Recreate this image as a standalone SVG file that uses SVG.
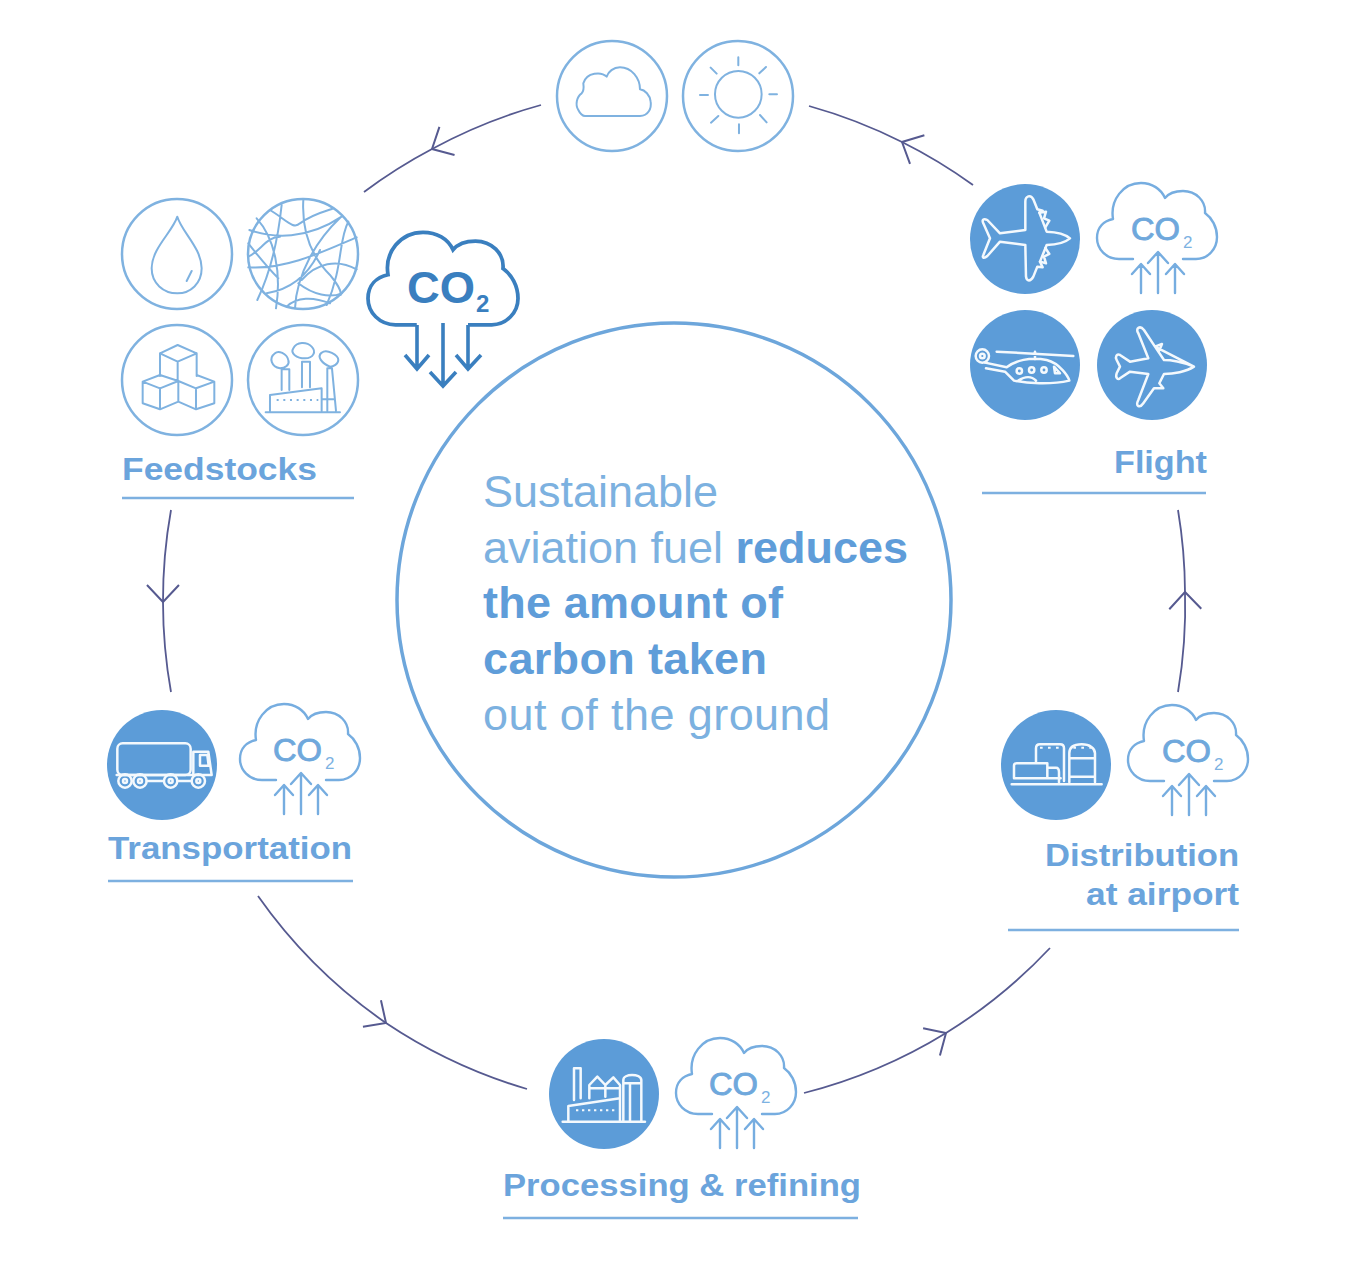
<svg xmlns="http://www.w3.org/2000/svg" xmlns:xlink="http://www.w3.org/1999/xlink" width="1356" height="1282" viewBox="0 0 1356 1282">
<style>
text{font-family:"Liberation Sans",Arial,sans-serif}
.ring{fill:#fff;stroke:#7fb2e0;stroke-width:2.5}
.solid{fill:#5c9cd8}
.ln{fill:none;stroke:#7fb2e0;stroke-width:6;stroke-linecap:round;stroke-linejoin:round}
.wh{fill:none;stroke:#f4f9fd;stroke-width:7.5;stroke-linecap:round;stroke-linejoin:round}
.cl{fill:none;stroke:#76ade0;stroke-width:2.4;stroke-linecap:round;stroke-linejoin:round}
.co{font-size:31px;fill:#6fa8dc;stroke:#6fa8dc;stroke-width:.9}
.sub{font-size:17px;fill:#7db2e2}
.lab{font-size:32px;font-weight:bold;fill:#6ba4dc}
.rule{stroke:#7db0e0;stroke-width:2.5;fill:none}
.big{font-size:45px;fill:#7cb1e0}
.bt{font-weight:bold;fill:#5f9dd9}
.conn{fill:none;stroke:#565a90;stroke-width:1.8;marker-mid:url(#v)}
</style>
<defs>
<marker id="v" markerUnits="userSpaceOnUse" markerWidth="44" markerHeight="44" refX="22" refY="22" orient="auto" viewBox="0 0 44 44">
<path d="M5 6L22 22L5 38" fill="none" stroke="#565a90" stroke-width="2"/>
</marker>
<g id="cloud"><path class="cl" d="M36 76H22C9 76 0 66 0 55C0 44 7 38 16 36C13 17 26 0 44 0C55 0 64 6 68 15C72 10 79 8 86 8C99 8 109 18 108 30C115 35 120 44 120 54C120 66 111 76 99 76H86"/>
<path class="cl" d="M44 110V82M35 91L44 81L53 91M61 110V70M51 80L61 69L71 80M78 110V82M69 91L78 81L87 91"/></g>
</defs>
<rect width="1356" height="1282" fill="#fff"/>

<g id="connectors">
<path class="conn" d="M541 105A512 512 0 0 0 432 149A512 512 0 0 0 364 192"/>
<path class="conn" d="M973 185A512 512 0 0 0 902 142A512 512 0 0 0 809 106"/>
<path class="conn" d="M171 510A512 512 0 0 0 163 602A512 512 0 0 0 171 692"/>
<path class="conn" d="M258 896A512 512 0 0 0 386 1023A512 512 0 0 0 527 1089"/>
<path class="conn" d="M804 1093A512 512 0 0 0 946 1033A512 512 0 0 0 1050 948"/>
<path class="conn" d="M1178 692A512 512 0 0 0 1185 592A512 512 0 0 0 1178 510"/>
</g>

<g id="center">
<circle cx="674" cy="600" r="277" fill="#fff" stroke="#6da6db" stroke-width="3.5"/>
<text class="big" x="483" y="507" textLength="235">Sustainable</text>
<text class="big" x="483" y="563" textLength="425">aviation fuel <tspan class="bt">reduces</tspan></text>
<text class="big bt" x="483" y="618" textLength="300">the amount of</text>
<text class="big bt" x="483" y="674" textLength="284">carbon taken</text>
<text class="big" x="483" y="730" textLength="347">out of the ground</text>
</g>

<g id="node-sky">
<circle class="ring" cx="612" cy="96" r="55"/>
<circle class="ring" cx="738" cy="96" r="55"/>
<g transform="translate(540 30) scale(.3333)">
<path class="ln" d="M135 258H300C325 258 335 235 332 215C330 195 315 180 300 178C300 145 275 112 240 112C220 112 205 125 200 140C185 125 140 125 130 160C132 175 130 185 125 190C110 200 105 225 115 240C120 250 128 258 135 258Z"/>
<circle class="ln" cx="595" cy="193" r="70"/>
<path class="ln" d="M595 82V106M597 283V310M480 195H504M688 193H711M512 113L530 131M678 111L658 130M513 278L535 258M680 277L660 255"/>
</g>
</g>

<g id="node-feedstocks">
<circle class="ring" cx="177" cy="254" r="55"/>
<circle class="ring" cx="303" cy="254" r="55"/>
<circle class="ring" cx="177" cy="380" r="55"/>
<circle class="ring" cx="303" cy="380" r="55"/>
<g transform="translate(100 180) scale(.3333)">
<path class="ln" d="M232 110C218 155 155 205 155 265C155 310 190 340 232 340C272 340 305 310 305 265C305 205 245 155 232 110ZM260 303L275 273"/>
<path class="ln" d="M448 150C520 175 620 180 725 110M445 262C560 270 680 210 770 172M545 75C535 170 515 270 472 360M610 60C605 150 630 225 690 285C710 310 725 330 722 345M722 112C650 180 590 280 585 385M445 190C480 235 500 260 535 295M470 115C525 175 545 280 528 385M595 310C640 345 690 355 725 340M770 268C710 235 650 250 605 300M745 125C715 180 730 260 680 375M500 340C560 330 620 300 660 210M510 90C560 120 580 150 600 130C640 100 690 90 700 85M445 230C480 215 500 170 540 170M560 380C590 350 640 350 690 370"/>
<path class="ln" d="M233 495L290 520L233 545L180 520ZM180 520V588M290 520V588M233 545V600M180 585L235 603L180 625L128 605ZM128 605V670L180 688L235 665V603M180 625V688M290 585L343 605L288 625L235 603M343 605V670L288 688L235 665M288 625V688"/>
<path class="ln" d="M497 697H720M510 692V645L665 625V692M545 630V568H568V630M606 622V545H630V622M682 692V565H696L708 692M665 658H700M540 565C515 560 505 535 525 520C535 510 560 520 565 540C570 555 555 565 540 565ZM615 535C590 535 570 520 580 505C590 485 620 485 635 500C650 515 640 535 615 535ZM690 560C665 550 650 530 665 518C680 505 715 525 715 540C715 552 700 560 690 560Z"/>
<path d="M530 660H655" fill="none" stroke="#7fb2e0" stroke-width="6" stroke-dasharray="6 14"/>
</g>
<text class="lab" x="122" y="479.500" textLength="195" lengthAdjust="spacingAndGlyphs">Feedstocks</text>
<line class="rule" x1="122" y1="498" x2="354" y2="498"/>
</g>

<g id="node-capture">
<g transform="translate(368 231) scale(1.25)"><path d="M39 75H22C9 75 0 65 0 54C0 43 7 37 16 35C13 17 26 1 44 1C55 1 64 6 68 15C72 10 79 8 86 8C99 8 109 18 108 30C115 35 120 44 120 54C120 65 111 75 99 75H80" fill="none" stroke="#3a7fbf" stroke-width="3"/></g>
<path d="M417 325V369M405 355L417 369L429 355" fill="none" stroke="#3a7fbf" stroke-width="3.6"/>
<path d="M443 323V386M430 372L443 386L456 372" fill="none" stroke="#3a7fbf" stroke-width="3.6"/>
<path d="M468 325V369M456 355L468 369L481 355" fill="none" stroke="#3a7fbf" stroke-width="3.6"/>
<text x="407" y="303" font-size="44" font-weight="bold" fill="#3a7fbf" textLength="68" lengthAdjust="spacingAndGlyphs">CO</text>
<text x="476" y="312" font-size="24" font-weight="bold" fill="#3a7fbf">2</text>
</g>

<g id="node-flight">
<circle class="solid" cx="1025" cy="239" r="55"/>
<circle class="solid" cx="1025" cy="365" r="55"/>
<circle class="solid" cx="1152" cy="365" r="55"/>
<g transform="translate(950 170) scale(.3333)">
<path class="wh" d="M360 205C345 192 320 186 290 185L268 128L278 122L262 118L250 88C242 72 226 78 226 95L226 180L150 190L112 150C100 144 95 150 100 160L120 205L100 255C95 265 103 266 112 258L150 215L226 225L228 320C230 335 242 335 250 320L262 290L278 292L270 275L290 225C320 224 345 218 360 205Z"/>
<path class="wh" d="M268 128L288 125L282 145L298 152L286 172M270 275L288 280L282 260L298 252L286 234"/>
<path class="wh" d="M140 545L370 558M255 545V568M105 578L170 592C195 572 240 560 290 570C330 580 355 620 358 632C300 645 230 640 192 632L165 605L108 595M205 632C225 618 245 618 258 632"/>
<circle class="wh" cx="97" cy="558" r="20"/><circle class="wh" cx="97" cy="558" r="7"/>
<circle class="wh" cx="208" cy="603" r="8"/><circle class="wh" cx="245" cy="600" r="8"/><circle class="wh" cx="282" cy="600" r="8"/><path class="wh" d="M312 590L330 610H315Z"/>
<path class="wh" d="M732 590C700 575 660 570 642 570L615 530L636 522L628 542M615 530L582 480C570 465 555 475 565 490L595 565L540 575L510 555C500 550 495 560 500 570L510 590L500 610C495 625 505 630 510 625L540 605L595 612L565 690C555 710 570 715 580 700L612 655L640 655L628 640L642 612C670 612 710 605 732 590Z"/>
</g>
<use href="#cloud" x="1097" y="183"/>
<text class="co" x="1131" y="240" textLength="49" lengthAdjust="spacingAndGlyphs">CO</text>
<text class="sub" x="1183" y="248">2</text>
<text class="lab" x="1114" y="473" textLength="93" lengthAdjust="spacingAndGlyphs">Flight</text>
<line class="rule" x1="982" y1="493" x2="1206" y2="493"/>
</g>

<g id="node-distribution">
<circle class="solid" cx="1056" cy="765" r="55"/>
<g transform="translate(990 695) scale(.3333)">
<path class="wh" d="M65 268H335M138 200V160C138 152 142 148 150 148H210C218 148 222 152 222 160V258M238 262V175C238 155 255 148 275 148C300 148 315 160 315 175V262M238 190H315M238 245H315M72 250V212C72 208 75 205 80 205H172V250M72 250H212M175 218H198C205 218 207 225 207 232V262"/>
<path d="M150 158H215M250 158H305" fill="none" stroke="#f4f9fd" stroke-width="6" stroke-dasharray="8 16"/>
</g>
<use href="#cloud" x="1128" y="705"/>
<text class="co" x="1162" y="762" textLength="49" lengthAdjust="spacingAndGlyphs">CO</text>
<text class="sub" x="1214" y="770">2</text>
<text class="lab" x="1045" y="866" textLength="194" lengthAdjust="spacingAndGlyphs">Distribution</text>
<text class="lab" x="1086" y="905" textLength="153" lengthAdjust="spacingAndGlyphs">at airport</text>
<line class="rule" x1="1008" y1="930" x2="1239" y2="930"/>
</g>

<g id="node-processing">
<circle class="solid" cx="604" cy="1094" r="55"/>
<g transform="translate(540 1030) scale(.3333)">
<path class="wh" d="M68 275H315M85 272V228L240 205V272M102 210V115H122V205M148 205V165L172 140L196 165V200M196 200V165L220 142L240 165V205M148 175H240M250 272V150C250 130 302 130 304 150V272M250 160H304M270 160V272"/>
<path d="M108 241H225" fill="none" stroke="#f4f9fd" stroke-width="6" stroke-dasharray="7 11"/>
</g>
<use href="#cloud" x="676" y="1038"/>
<text class="co" x="709" y="1095" textLength="49" lengthAdjust="spacingAndGlyphs">CO</text>
<text class="sub" x="761" y="1103">2</text>
<text class="lab" x="503" y="1196" textLength="358" lengthAdjust="spacingAndGlyphs">Processing &amp; refining</text>
<line class="rule" x1="503" y1="1218" x2="858" y2="1218"/>
</g>

<g id="node-transportation">
<circle class="solid" cx="162" cy="765" r="55"/>
<g transform="translate(100 695) scale(.3333)">
<rect class="wh" x="52" y="145" width="220" height="95" rx="16"/>
<path class="wh" d="M50 240H335M280 240V170H325L335 240M300 212V180H322L326 212ZM140 258H190M235 258H272"/>
<circle class="wh" cx="75" cy="258" r="20"/><circle class="wh" cx="75" cy="258" r="6"/>
<circle class="wh" cx="120" cy="258" r="20"/><circle class="wh" cx="120" cy="258" r="6"/>
<circle class="wh" cx="212" cy="258" r="20"/><circle class="wh" cx="212" cy="258" r="6"/>
<circle class="wh" cx="295" cy="258" r="20"/><circle class="wh" cx="295" cy="258" r="6"/>
</g>
<use href="#cloud" x="240" y="704"/>
<text class="co" x="273" y="761" textLength="49" lengthAdjust="spacingAndGlyphs">CO</text>
<text class="sub" x="325" y="769">2</text>
<text class="lab" x="108" y="859" textLength="244" lengthAdjust="spacingAndGlyphs">Transportation</text>
<line class="rule" x1="108" y1="881" x2="353" y2="881"/>
</g>
</svg>
